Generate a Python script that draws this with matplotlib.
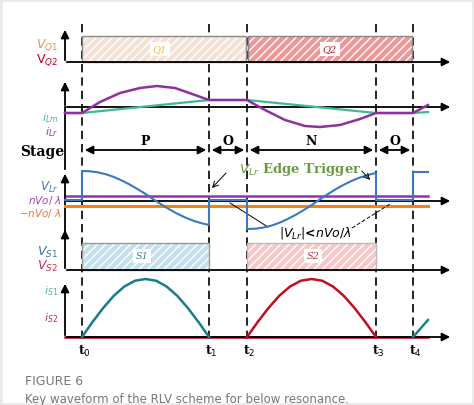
import numpy as np
import matplotlib.pyplot as plt
from matplotlib.patches import Rectangle

# event times (pixel x of t0..t4)
t_x = [82, 209, 247, 376, 413]
t_lab = ['t$_0$', 't$_1$', 't$_2$', 't$_3$', 't$_4$']

# shape of a half arc, read at 13 even steps
arc = [0, 0.26, 0.5, 0.71, 0.87, 0.97, 1.0, 0.97, 0.87, 0.71, 0.5, 0.26, 0]
# falling shape for V_Lr (1 -> -1)
fall = [1.0, 0.99, 0.95, 0.88, 0.78, 0.65, 0.5, 0.33, 0.15, -0.05, -0.24, -0.42, -0.58, -0.72, -0.84, -0.93, -1.0]

# i_Lr and i_Lm, pixel y
ilr_x = [65, 82, 100, 120, 140, 157, 175, 195, 209, 247, 265, 285, 305, 320, 340, 360, 376, 413, 428]
ilr_y = [114, 114, 103, 94, 89, 87, 89, 96, 101, 101, 111, 121, 127, 128, 126, 120, 114, 114, 106]
ilm_x = [65, 82, 209, 247, 376, 413, 428]
ilm_y = [114, 114, 101, 101, 114, 114, 113]

fig = plt.figure(figsize=(4.74, 4.06), dpi=100)
ax = fig.add_axes([0, 0, 1, 1])
ax.set_xlim(0, 474); ax.set_ylim(406, 0); ax.axis('off')
ax.add_patch(Rectangle((0, 0), 474, 406, color='#e9e9e9', zorder=0))
ax.add_patch(Rectangle((3, 3), 468, 400, color='white', zorder=0))

def xaxis(y, top):
    ax.annotate('', xy=(453, y), xytext=(64, y),
                arrowprops=dict(arrowstyle='-|>', color='black', lw=1.3, mutation_scale=12))
    ax.annotate('', xy=(65, top), xytext=(65, y + 1),
                arrowprops=dict(arrowstyle='-|>', color='black', lw=1.3, mutation_scale=12))

def box(x, y, w, h, fc, ec):
    ax.add_patch(Rectangle((x, y), w, h, fc=fc, ec='white', hatch='////', lw=0, zorder=2))
    ax.add_patch(Rectangle((x, y), w, h, fc='none', ec=ec, lw=1, zorder=2))

# dashed event lines
for x in t_x:
    ax.plot([x, x], [25, 342], color='black', lw=1.2, ls=(0, (5, 3)), zorder=1)

# panel 1: V_Q1 / V_Q2
xaxis(63, 28)
box(82, 37, 164, 26, '#f4e2d6', '#888888')
box(248, 37, 164, 26, '#ec9898', '#888888')
ax.text(160, 50, 'Q1', color='#e8c040', fontsize=7, style='italic', family='serif',
        ha='center', va='center', bbox=dict(fc='white', ec='none', pad=2), zorder=3)
ax.text(330, 50, 'Q2', color='#b02020', fontsize=7, style='italic', family='serif',
        ha='center', va='center', bbox=dict(fc='white', ec='none', pad=2), zorder=3)
ax.text(58, 45, '$V_{Q1}$', color='#f09050', fontsize=9, ha='right', va='center', family='serif')
ax.text(58, 60, 'V$_{Q2}$', color='#c00020', fontsize=9, ha='right', va='center')

# panel 2: currents
xaxis(108, 80)
ax.plot([65, 65], [108, 170], color='black', lw=1.3)
ax.plot(ilm_x, ilm_y, color='#40b890', lw=1.6, zorder=3)
ax.plot(ilr_x, ilr_y, color='#9030a0', lw=1.8, zorder=4)
ax.text(58, 118, '$i_{Lm}$', color='#40b890', fontsize=8, ha='right', va='center')
ax.text(58, 132, '$i_{Lr}$', color='#9040a0', fontsize=8, ha='right', va='center')

# stage row
ax.text(64, 152, 'Stage', fontsize=10, fontweight='bold', family='serif', ha='right', va='center')
for (a, b), lab in zip([(82, 209), (209, 247), (247, 376), (376, 413)], ['P', 'O', 'N', 'O']):
    ax.annotate('', xy=(a, 151), xytext=(b, 151),
                arrowprops=dict(arrowstyle='<|-|>', color='black', lw=1.3, mutation_scale=12))
    ax.text((a + b) / 2, 142, lab, fontsize=9, fontweight='bold', family='serif', ha='center', va='center')

# panel 3: V_Lr
xaxis(202, 172)
ax.plot([65, 65], [202, 240], color='black', lw=1.3)
ax.plot([65, 428], [197, 197], color='#9030c0', lw=1.8, zorder=2)
ax.plot([65, 428], [207, 207], color='#ff7f0e', lw=2.2, zorder=2)
xs = np.linspace(82, 209, len(fall))
ys = 199 - 27 * np.array(fall)
ax.plot(np.r_[65, 82, xs, 209, 247], np.r_[201, 201, ys, 201, 201], color='#3a78c0', lw=1.5, zorder=3)
xs2 = np.linspace(247, 376, len(fall))
ys2 = 202 + 28 * np.array(fall)
ax.plot(np.r_[247, xs2, 376, 413, 413, 428], np.r_[201, ys2, 201, 201, 173, 173], color='#3a78c0', lw=1.5, zorder=3)
ax.text(58, 187, '$V_{Lr}$', color='#3a78c0', fontsize=8.5, ha='right', va='center', family='serif')
ax.text(62, 201, '$nVo/\\ \\lambda$', color='#a040b0', fontsize=7.5, ha='right', va='center')
ax.text(62, 214, '$-nVo/\\ \\lambda$', color='#f07030', fontsize=7.5, ha='right', va='center')
ax.text(300, 170, '$V_{Lr}$ Edge Trigger', color='#6a9a40', fontsize=9.5, fontweight='bold',
        family='serif', ha='center', va='center')
ax.annotate('', xy=(210, 191), xytext=(228, 172), arrowprops=dict(arrowstyle='->', lw=0.7))
ax.annotate('', xy=(372, 183), xytext=(360, 170), arrowprops=dict(arrowstyle='->', lw=0.7))
ax.text(315, 233, '$|V_{Lr}|$<$nVo/\\lambda$', fontsize=9, fontweight='bold', ha='center', va='center')
ax.plot([230, 268], [204, 228], color='black', lw=0.7)
ax.plot([352, 390], [229, 205], color='black', lw=0.7, ls=(0, (4, 2)))

# panel 4: V_S1 / V_S2
xaxis(271, 228)
box(82, 244, 127, 27, '#c4e0ec', '#999999')
box(247, 244, 129, 27, '#f6c8c8', '#bbbbbb')
ax.text(142, 257, 'S1', color='#3a80a0', fontsize=7, style='italic', family='serif',
        ha='center', va='center', bbox=dict(fc='white', ec='none', pad=2), zorder=3)
ax.text(313, 257, 'S2', color='#c03040', fontsize=7, style='italic', family='serif',
        ha='center', va='center', bbox=dict(fc='white', ec='none', pad=2), zorder=3)
ax.text(58, 252, '$V_{S1}$', color='#3a70a0', fontsize=9, ha='right', va='center', family='serif')
ax.text(58, 266, '$V_{S2}$', color='#c03050', fontsize=9, ha='right', va='center', family='serif')

# panel 5: switch currents
xaxis(338, 282)
ax.plot([65, 428], [338, 338], color='#b01020', lw=1.8, zorder=2)
ax.plot(np.linspace(82, 209, len(arc)), 338 - 58 * np.array(arc), color='#1a7a90', lw=1.8, zorder=3)
ax.plot(np.linspace(247, 376, len(arc)), 338 - 58 * np.array(arc), color='#c01020', lw=1.8, zorder=3)
ax.plot([413, 428], [338, 321], color='#1a8090', lw=1.8, zorder=3)
ax.text(58, 291, '$i_{S1}$', color='#60b0a0', fontsize=8, ha='right', va='center', family='serif')
ax.text(58, 318, '$i_{S2}$', color='#c03040', fontsize=8, ha='right', va='center', family='serif')
for x, lab in zip(t_x, t_lab):
    ax.text(x + 2, 351, lab, fontsize=9, fontweight='bold', family='serif', ha='center', va='center')

ax.text(25, 382, 'FIGURE 6', color='#777777', fontsize=9, va='center')
ax.text(25, 400, 'Key waveform of the RLV scheme for below resonance.', color='#777777', fontsize=8.5, va='center')

fig.savefig('out.png', dpi=100)
